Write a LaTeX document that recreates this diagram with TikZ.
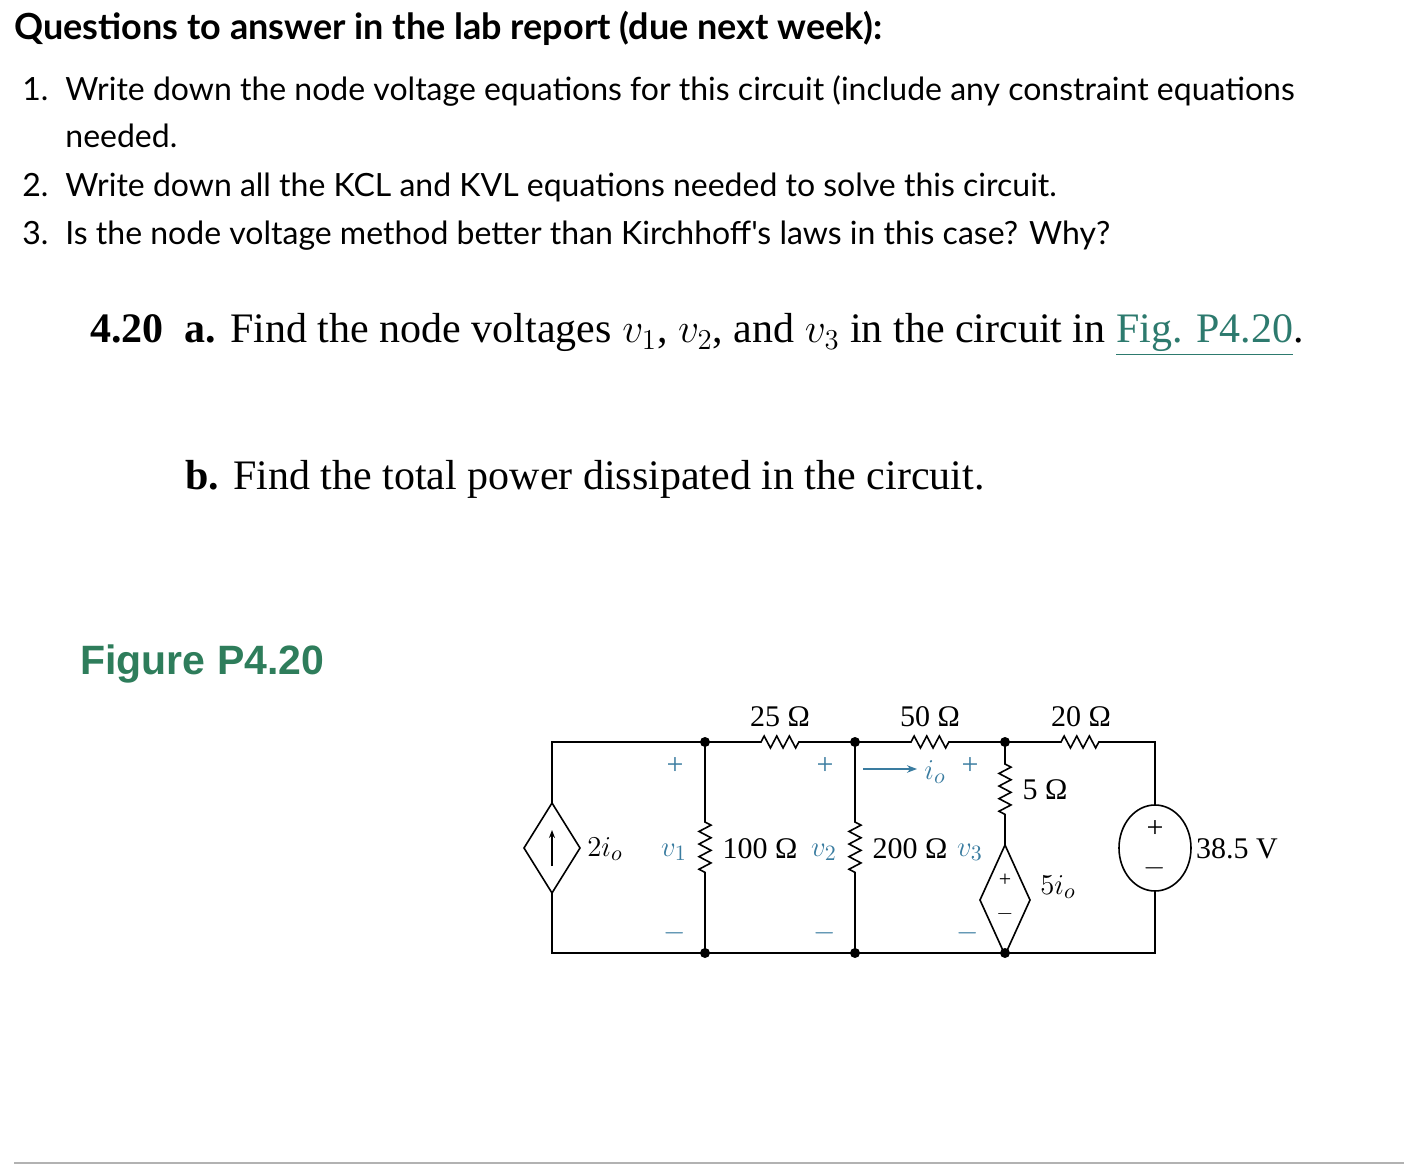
\documentclass[tikz,border=0pt]{standalone}
\usepackage{fontspec}
\setmainfont{Liberation Serif}
\newfontfamily\lato{Lato}
\newfontfamily\arial{Liberation Sans}
\usetikzlibrary{decorations.pathmorphing,arrows.meta}
\definecolor{lbl}{HTML}{3A7CA0}
\definecolor{figg}{HTML}{2E7D5B}
\definecolor{lnk}{HTML}{2D7A6E}
\begin{document}
\begin{tikzpicture}[x=0.5pt,y=-0.5pt,
  body/.style={anchor=base west,inner sep=0pt,font=\lato\fontsize{16}{18}\selectfont},
  ser/.style={anchor=base west,inner sep=0pt,font=\fontsize{21}{24}\selectfont},
  cl/.style={inner sep=0pt,font=\fontsize{15}{17}\selectfont},
  sm/.style={inner sep=0pt,font=\fontsize{11}{13}\selectfont},
  bl/.style={cl,text=lbl},
  w/.style={line width=0.8pt},
  res/.style={decoration={zigzag,segment length=6.3pt,amplitude=3pt}},
  dot/.style={circle,fill,inner sep=0pt,minimum size=5pt}]
\useasboundingbox (0,0) rectangle (1404,1176);
\node[body,font=\lato\bfseries\fontsize{18}{20}\selectfont] (h) at (14,40) {Questions to answer in the lab report (due next week):};
\node[body] (n1) at (22,101) {1.};
\node[body] (t1) at (65,101) {Write down the node voltage equations for this circuit (include any constraint equations};
\node[body] (t1b) at (65,148) {needed.};
\node[body] (n2) at (22,197) {2.};
\node[body] (t2) at (65,197) {Write down all the KCL and KVL equations needed to solve this circuit.};
\node[body] (n3) at (22,245) {3.};
\node[body] (t3) at (65,245) {Is the node voltage method better than Kirchhoff's laws in this case? Why?};
\node[ser] (a) at (90,343) {\textbf{4.20\enspace a.} Find the node voltages $v_1$, $v_2$, and $v_3$ in the circuit in \textcolor{lnk}{\underline{Fig. P4.20}}.};
\node[ser] (b) at (185,490) {\textbf{b.} Find the total power dissipated in the circuit.};
\node[anchor=base west,inner sep=0pt,text=figg,font=\arial\bfseries\fontsize{20.5}{23}\selectfont] (fig) at (80,675) {Figure P4.20};
% circuit wires
\draw[w] (552,803) -- (552,742) -- (761,742) decorate[res]{-- (799,742)} -- (911,742) decorate[res]{-- (949,742)} -- (1061,742) decorate[res]{-- (1099,742)} -- (1155,742) -- (1155,805);
\draw[w] (1155,891) -- (1155,953) -- (552,953) -- (552,893);
\draw[w] (705,742) -- (705,822) decorate[res]{-- (705,876)} -- (705,953);
\draw[w] (855,742) -- (855,822) decorate[res]{-- (855,876)} -- (855,953);
\draw[w] (1005,742) -- (1005,764) decorate[res]{-- (1005,818)} -- (1005,845);
% dependent current source
\draw[w] (552,803) -- (580,848) -- (552,893) -- (524,848) -- cycle;
\draw[w,-{Stealth[length=4pt]}] (552,866) -- (552,830);
% dependent voltage source
\draw[w] (1005,845) -- (1030,900) -- (1005,955) -- (980,900) -- cycle;
\node[sm] (dp) at (1005,880) {+};
\node[sm] (dm) at (1005,914) {$-$};
% independent voltage source
\draw[w] (1155,848) ellipse[x radius=36,y radius=43];
\node[cl] (vp) at (1155,829) {+};
\node[cl] (vm) at (1155,868) {$-$};
% dots
\foreach \x in {705,855,1005}{\node[dot] at (\x,742) {}; \node[dot] at (\x,953) {};}
% labels
\node[cl] (r25) at (780,717) {25 Ω};
\node[cl] (r50) at (930,717) {50 Ω};
\node[cl] (r20) at (1081,717) {20 Ω};
\node[cl] (r5) at (1045,790) {5 Ω};
\node[cl] (r100) at (760,849) {100 Ω};
\node[cl] (r200) at (910,849) {200 Ω};
\node[cl] (gi) at (605,849) {$2i_o$};
\node[cl] (gv) at (1058,887) {$5i_o$};
\node[cl] (vs) at (1237,849) {38.5 V};
\node[bl] (v1) at (674,852) {$v_1$};
\node[bl] (v2) at (824,852) {$v_2$};
\node[bl] (v3) at (970,852) {$v_3$};
\foreach \x in {675,825,970}{\node[bl] at (\x,766) {+};}
\foreach \x in {675,825,968}{\node[bl] at (\x,933) {$-$};}
\draw[lbl,line width=0.9pt,-{Stealth[length=5pt]}] (863,769) -- (917,769);
\node[bl] (io) at (935,772) {$i_o$};
\draw[gray!60,line width=1pt] (14,1163) -- (1404,1163);
\end{tikzpicture}
\end{document}
